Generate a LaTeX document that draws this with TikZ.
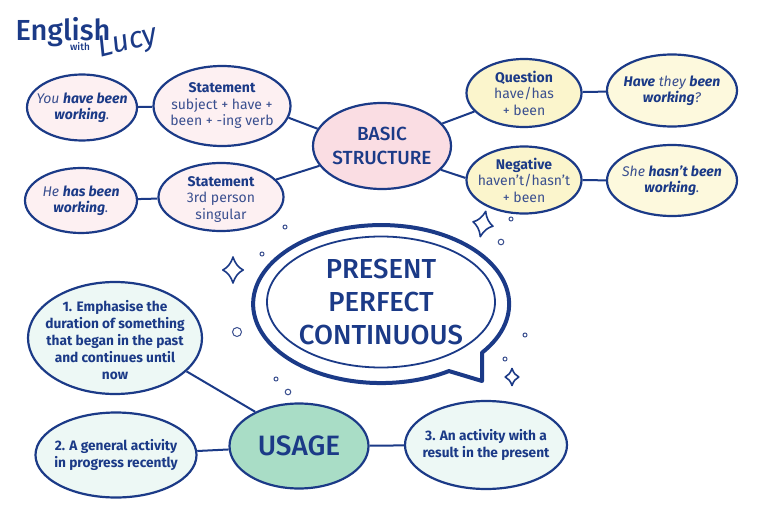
\documentclass[tikz,border=0pt]{standalone}
\usepackage{fontspec}
\setmainfont{Fira Sans}
\newfontfamily\medfont{Fira Sans Medium}
\usetikzlibrary{shapes.geometric}
\definecolor{navy}{HTML}{1B3A87}
\definecolor{softnavy}{HTML}{3A4F8F}
\definecolor{pinkmid}{HTML}{FADDE3}
\definecolor{pinklite}{HTML}{FDF0F2}
\definecolor{yellowmid}{HTML}{FBF5CC}
\definecolor{yellowlite}{HTML}{FDF9DD}
\definecolor{greenmid}{HTML}{A9DDC6}
\definecolor{greenlite}{HTML}{EDF8F5}
\tikzset{
  bubble/.style={ellipse, draw=navy, line width=2.2pt, inner sep=-40pt, align=center, text=softnavy,
    font=\fontsize{14}{16.5}\selectfont},
  point/.style={bubble, fill=greenlite, text=navy, font=\bfseries\fontsize{13.7}{17}\selectfont},
  link/.style={draw=navy, line width=2pt},
  sparkle/.pic={
    \draw[navy, line width=1.6pt, fill=white, line join=round]
      (0,-1) .. controls (0.2,-0.45) and (0.45,-0.2) .. (0.85,0)
      .. controls (0.45,0.2) and (0.2,0.45) .. (0,1)
      .. controls (-0.2,0.45) and (-0.45,0.2) .. (-0.85,0)
      .. controls (-0.45,-0.2) and (-0.2,-0.45) .. cycle;
  },
}
\newcommand{\hd}[1]{{\bfseries\color{navy}#1}}
\begin{document}
\begin{tikzpicture}[x=1pt, y=-1pt]

    \useasboundingbox (0,0) rectangle (768,532);

    % Logo
    \node[text=navy, font=\medfont\fontsize{29}{29}\selectfont, inner sep=0pt] (english) at (63,32) {English};
    \node[text=navy, font=\medfont\fontsize{10}{10}\selectfont, inner sep=0pt] (with) at (80,47) {with};
    \node[text=navy, font=\rmfamily\itshape\fontsize{30}{30}\selectfont, inner sep=0pt, rotate=14] (lucy) at (128,43) {Lucy};

    % Basic structure
    \node[bubble, fill=pinkmid, minimum width=138pt, minimum height=86pt, text=navy,
      font=\medfont\fontsize{19}{24}\selectfont] (basic) at (382,146) {BASIC\\STRUCTURE};
    \node[bubble, fill=pinklite, minimum width=137pt, minimum height=80pt] (stmtone) at (222,106)
      {\hd{Statement}\\subject + have +\\been + -ing verb};
    \node[bubble, fill=pinklite, minimum width=110pt, minimum height=66pt] (youhave) at (82,107.5)
      {\textit{You \hd{have been}}\\\textit{\hd{working}.}};
    \node[bubble, fill=pinklite, minimum width=125pt, minimum height=68pt] (stmttwo) at (221,197)
      {\rule{0pt}{14pt}\hd{Statement}\\3rd person\\singular};
    \node[bubble, fill=pinklite, minimum width=112pt, minimum height=65pt] (hehas) at (81,200.5)
      {\textit{He \hd{has been}}\\\textit{\hd{working}.}};
    \node[bubble, fill=yellowmid, minimum width=115pt, minimum height=68pt] (question) at (524,93)
      {\hd{Question}\\have/has\\+ been};
    \node[bubble, fill=yellowlite, minimum width=130pt, minimum height=72pt] (havethey) at (672,90.5)
      {\textit{\hd{Have} they \hd{been}}\\\textit{\hd{working}?}};
    \node[bubble, fill=yellowmid, minimum width=115pt, minimum height=67pt] (negative) at (524,180)
      {\hd{Negative}\\haven't/hasn't\\+ been};
    \node[bubble, fill=yellowlite, minimum width=130pt, minimum height=71pt] (shehasnt) at (672,180.5)
      {\textit{She \hd{hasn't been}}\\\textit{\hd{working}.}};

    % Usage
    \node[bubble, fill=greenmid, minimum width=139pt, minimum height=85pt, text=navy,
      font=\medfont\fontsize{28}{30}\selectfont] (usage) at (299,446) {USAGE};
    \node[point, minimum width=174pt, minimum height=112pt] (emphasise) at (115,338)
      {\rule{0pt}{16pt}1. Emphasise the\\duration of something\\that began in the past\\and continues until\\now};
    \node[point, minimum width=161pt, minimum height=85pt] (general) at (116,455)
      {2. A general activity\\in progress recently};
    \node[point, minimum width=162pt, minimum height=88pt] (result) at (486,445)
      {3. An activity with a\\result in the present};

    % Links
    \draw[link] (youhave) -- (stmtone);
    \draw[link] (hehas) -- (stmttwo);
    \draw[link] (stmtone.-10) -- (basic.165);
    \draw[link] (stmttwo) -- (basic);
    \draw[link] (basic) -- (question);
    \draw[link] (basic.-22) -- (negative.178);
    \draw[link] (question) -- (havethey);
    \draw[link] (negative) -- (shehasnt);
    \draw[link] (emphasise.-25) -- (usage.142);
    \draw[link] (general) -- (usage);
    \draw[link] (usage) -- (result);

    % Speech bubble
    \draw[navy, line width=4pt, line join=round] (482,352.7) arc[x radius=128, y radius=79, start angle=38, end angle=-302]
      -- (482,381) -- cycle;
    \node[bubble, line width=1.8pt, minimum width=228pt, minimum height=131pt, text=navy,
      font=\medfont\fontsize{27.5}{33}\selectfont] (title) at (381,302) {PRESENT\\PERFECT\\CONTINUOUS};

    % Sparkles
    \path (233,270) pic[x=12pt, y=13pt] {sparkle};
    \path (483,224) pic[x=12pt, y=13pt, rotate=-12] {sparkle};
    \path (512,377) pic[x=8pt, y=8.5pt] {sparkle};

    % Dots
    \foreach \px/\py/\rad in {285/227/2, 262/254/2, 237/332/4.5, 276/379/2, 288/392/2.8,
      525/335/2, 505/359/2, 511/219/2, 501/242/2.8}
      \draw[softnavy, line width=1pt] (\px,\py) circle[radius=\rad];

\end{tikzpicture}
\end{document}
